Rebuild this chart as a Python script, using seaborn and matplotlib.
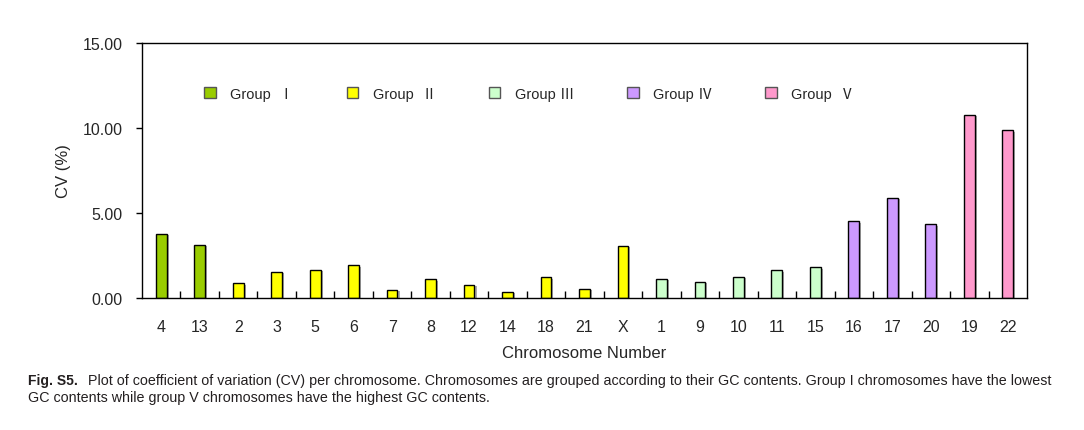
import matplotlib
matplotlib.use("Agg")
import matplotlib.pyplot as plt
import matplotlib.patheffects as pe
from matplotlib.patches import Patch
import seaborn as sns
import numpy as np
import pandas as pd

chromosomes = ["4", "13", "2", "3", "5", "6", "7", "8", "12", "14", "18", "21", "X",
               "1", "9", "10", "11", "15", "16", "17", "20", "19", "22"]
cv_values = [3.78, 3.12, 0.86, 1.55, 1.66, 1.92, 0.47, 1.10, 0.76, 0.35, 1.22, 0.53, 3.08,
             1.12, 0.95, 1.24, 1.63, 1.80, 4.50, 5.90, 4.33, 10.76, 9.86]
groups = ["Group  Ⅰ"] * 2 + ["Group  Ⅱ"] * 11 + ["Group Ⅲ"] * 5 + ["Group Ⅳ"] * 3 + ["Group  Ⅴ"] * 2
group_names = ["Group  Ⅰ", "Group  Ⅱ", "Group Ⅲ", "Group Ⅳ", "Group  Ⅴ"]
group_colors = ["#99CC00", "#FFFF00", "#CCFFCC", "#CC99FF", "#FF99CC"]
y_ticks = [0, 5, 10, 15]

df = pd.DataFrame({"chrom": chromosomes, "cv": cv_values, "group": groups})

sns.set_style("white")
plt.rcParams["font.family"] = ["Liberation Sans", "Noto Sans CJK SC", "DejaVu Sans"]

fig = plt.figure(figsize=(10.84, 4.31), dpi=100)
ax = fig.add_axes([0.131, 0.3063, 0.8164, 0.5917])

sns.barplot(data=df, x="chrom", y="cv", hue="group", order=chromosomes,
            hue_order=group_names, palette=dict(zip(group_names, group_colors)),
            dodge=False, width=0.28, edgecolor="black", linewidth=1.0,
            saturation=1, legend=False, ax=ax)

shadow = [pe.SimplePatchShadow(offset=(1.5, -1.0), shadow_rgbFace="#888888", alpha=0.7), pe.Normal()]
for bar in ax.patches:
    bar.set_path_effects(shadow)

ax.set_xlim(-0.5, len(chromosomes) - 0.5)
ax.set_ylim(0, 15)
ax.set_yticks(y_ticks)
ax.set_yticklabels([f"{v:.2f}" for v in y_ticks])
ax.set_xticks(np.arange(0.5, len(chromosomes) - 0.5, 1), minor=True)
ax.tick_params(axis="x", which="major", length=0, pad=15, labelsize=11.5)
ax.tick_params(axis="x", which="minor", direction="in", length=5, width=1, color="black", bottom=True)
ax.tick_params(axis="y", which="major", direction="out", length=4, width=1, color="black", left=True, pad=10, labelsize=11.5)

for s in ax.spines.values():
    s.set_color("black")
    s.set_linewidth(1.0)

ax.set_xlabel("Chromosome Number", fontsize=12, labelpad=8)
ax.set_ylabel("CV (%)", fontsize=12, labelpad=8)

handles = [Patch(facecolor=c, edgecolor="#555555", linewidth=1.0) for c in group_colors]
ax.legend(handles, group_names, loc="center", bbox_to_anchor=(0.438, 0.8), ncol=5,
          frameon=False, fontsize=10.5, handlelength=0.8, handleheight=0.8,
          handletextpad=1.0, columnspacing=3.6)

cap_y1 = 1 - 381 / 431
cap_y2 = 1 - 398 / 431
fig.text(28 / 1084, cap_y1, "Fig. S5.", fontsize=10, fontweight="bold", va="center", color="#231f20")
fig.text(88 / 1084, cap_y1,
         "Plot of coefficient of variation (CV) per chromosome. Chromosomes are grouped according to their GC contents. "
         "Group I chromosomes have the lowest", fontsize=10.3, va="center", color="#231f20")
fig.text(28 / 1084, cap_y2, "GC contents while group V chromosomes have the highest GC contents.",
         fontsize=10.3, va="center", color="#231f20")

fig.savefig("out.png", dpi=100)
